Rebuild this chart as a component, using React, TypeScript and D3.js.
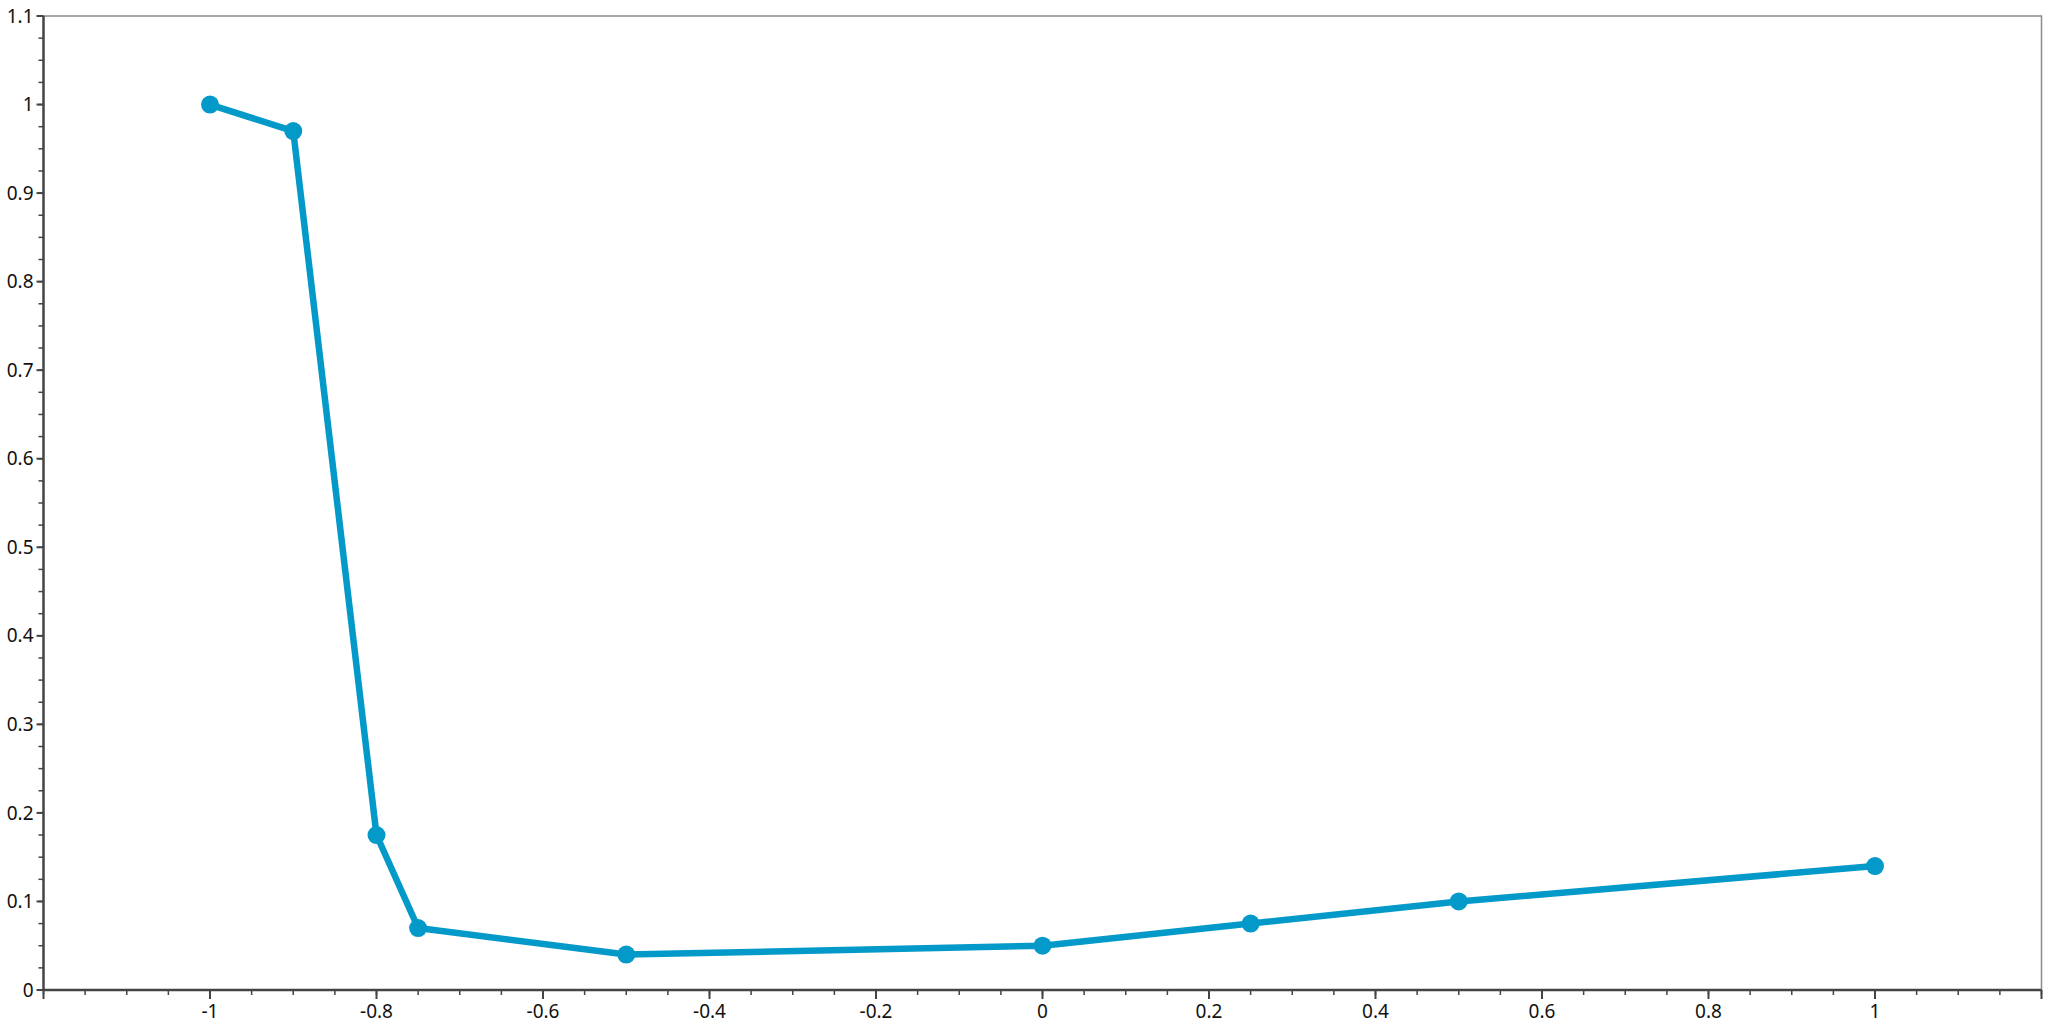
import React, { useEffect, useRef } from "react";
import * as d3 from "d3";

// values
const xValues = [-1, -0.9, -0.8, -0.75, -0.5, 0, 0.25, 0.5, 1];
const yValues = [1.0, 0.97, 0.175, 0.07, 0.04, 0.05, 0.075, 0.1, 0.14];
const xMajorTicks = [-1.2, -1, -0.8, -0.6, -0.4, -0.2, 0, 0.2, 0.4, 0.6, 0.8, 1, 1.2];
const xLabelTicks = [-1, -0.8, -0.6, -0.4, -0.2, 0, 0.2, 0.4, 0.6, 0.8, 1];
const yMajorTicks = [0, 0.1, 0.2, 0.3, 0.4, 0.5, 0.6, 0.7, 0.8, 0.9, 1, 1.1];

const App = () => {
  const ref = useRef<SVGSVGElement>(null);

  useEffect(() => {
    const width = 2048;
    const height = 1027;
    const left = 43.5;
    const right = 2041.5;
    const top = 16;
    const bottom = 990;
    const color = "#0399c8";
    const font = "'Noto Sans', 'Open Sans', sans-serif";

    const svg = d3.select(ref.current);
    svg.selectAll("*").remove();
    svg.attr("width", width).attr("height", height);

    const x = d3.scaleLinear().domain([-1.2, 1.2]).range([left, right]);
    const y = d3.scaleLinear().domain([0, 1.1]).range([bottom, top]);

    // frame top + right
    svg.append("path")
      .attr("d", `M${left},${top}H${right}V${bottom}`)
      .attr("fill", "none")
      .attr("stroke", "#8a8a8a")
      .attr("stroke-width", 1.5);

    // minor ticks
    const xMinor = d3.range(-1.2, 1.2001, 0.05).map((v) => +v.toFixed(2));
    svg.append("g").selectAll("line").data(xMinor).enter().append("line")
      .attr("x1", (d) => x(d)).attr("x2", (d) => x(d))
      .attr("y1", bottom).attr("y2", bottom + 5)
      .attr("stroke", "#444").attr("stroke-width", 1.5);

    const yMinor = d3.range(0, 1.1001, 0.025).map((v) => +v.toFixed(3));
    svg.append("g").selectAll("line").data(yMinor).enter().append("line")
      .attr("x1", left - 5).attr("x2", left)
      .attr("y1", (d) => y(d)).attr("y2", (d) => y(d))
      .attr("stroke", "#444").attr("stroke-width", 1.5);

    // major ticks
    svg.append("g").selectAll("line").data(xMajorTicks).enter().append("line")
      .attr("x1", (d) => x(d)).attr("x2", (d) => x(d))
      .attr("y1", bottom).attr("y2", bottom + 9)
      .attr("stroke", "#444").attr("stroke-width", 2);

    svg.append("g").selectAll("line").data(yMajorTicks).enter().append("line")
      .attr("x1", left - 7).attr("x2", left)
      .attr("y1", (d) => y(d)).attr("y2", (d) => y(d))
      .attr("stroke", "#444").attr("stroke-width", 2);

    // axis lines
    svg.append("line")
      .attr("x1", left).attr("x2", right)
      .attr("y1", bottom).attr("y2", bottom)
      .attr("stroke", "#444").attr("stroke-width", 2.5);
    svg.append("line")
      .attr("x1", left).attr("x2", left)
      .attr("y1", top).attr("y2", bottom)
      .attr("stroke", "#444").attr("stroke-width", 2.5);

    // labels
    svg.append("g").selectAll("text").data(xLabelTicks).enter().append("text")
      .attr("x", (d) => x(d))
      .attr("y", 1018)
      .attr("text-anchor", "middle")
      .attr("font-family", font)
      .attr("font-size", 19)
      .attr("fill", "#111")
      .text((d) => String(d));

    svg.append("g").selectAll("text").data(yMajorTicks).enter().append("text")
      .attr("x", left - 10)
      .attr("y", (d) => y(d))
      .attr("dy", "0.35em")
      .attr("text-anchor", "end")
      .attr("font-family", font)
      .attr("font-size", 19)
      .attr("fill", "#111")
      .text((d) => String(d));

    // series
    const points = xValues.map((v, i) => [v, yValues[i]] as [number, number]);
    const line = d3.line<[number, number]>().x((d) => x(d[0])).y((d) => y(d[1]));
    svg.append("path")
      .attr("d", line(points))
      .attr("fill", "none")
      .attr("stroke", color)
      .attr("stroke-width", 6.5)
      .attr("stroke-linejoin", "round");

    svg.append("g").selectAll("circle").data(points).enter().append("circle")
      .attr("cx", (d) => x(d[0]))
      .attr("cy", (d) => y(d[1]))
      .attr("r", 9)
      .attr("fill", color);
  }, []);

  return (
    <div style={{ position: "fixed", left: 0, top: 0, background: "#fff" }}>
      <svg ref={ref} style={{ display: "block" }} />
    </div>
  );
};

export default App;
